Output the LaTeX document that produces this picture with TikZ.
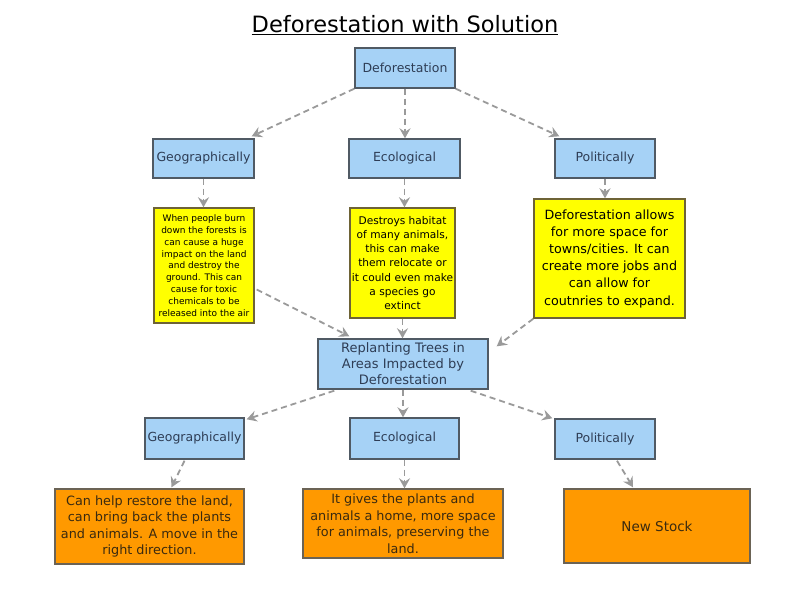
\documentclass[tikz,border=0pt]{standalone}
\usepackage{fontspec}
\setmainfont{DejaVu Sans}
\usetikzlibrary{arrows.meta,calc}
\definecolor{bfill}{HTML}{A6D2F6}
\definecolor{bborder}{HTML}{505A64}
\definecolor{btext}{HTML}{2E3D55}
\definecolor{yfill}{HTML}{FFFF00}
\definecolor{yborder}{HTML}{6E6336}
\definecolor{ofill}{HTML}{FF9900}
\definecolor{oborder}{HTML}{6B6355}
\definecolor{otext}{HTML}{3A2A10}
\definecolor{arrowgray}{HTML}{9A9A9A}
\tikzset{
  bbox/.style={draw=bborder, fill=bfill, line width=1.4pt, inner sep=0pt, text=btext, align=center, font=\fontsize{12.5}{16}\selectfont},
  ybox/.style={draw=yborder, fill=yfill, line width=1.4pt, inner sep=0pt, text=black, align=center},
  obox/.style={draw=oborder, fill=ofill, line width=1.4pt, inner sep=0pt, text=otext, align=center, font=\fontsize{12.8}{16.5}\selectfont},
  conn/.style={draw=arrowgray, line width=1.8pt, dash pattern=on 6pt off 4pt, -{Stealth[length=10pt,width=11pt,inset=3.5pt]}},
}
\begin{document}
\begin{tikzpicture}[x=1pt,y=-1pt]
\useasboundingbox (0,0) rectangle (800,589);
\fill[white] (0,0) rectangle (800,589);
\node (title) at (405,25) {\fontsize{22.5}{26}\selectfont\underline{Deforestation with Solution}};
\node[bbox, minimum width=100pt, minimum height=40pt] (def) at (405,68) {Deforestation};
\node[bbox, minimum width=101pt, minimum height=39pt] (g1) at (203.5,158.5) {Geographically};
\node[bbox, minimum width=111pt, minimum height=39pt] (e1) at (404.5,158.5) {Ecological};
\node[bbox, minimum width=100pt, minimum height=39pt] (p1) at (605,158.5) {Politically};
\node[ybox, minimum width=100pt, minimum height=115pt, font=\fontsize{9}{11.8}\selectfont] (y1) at (204,265.5) {When people burn\\down the forests is\\can cause a huge\\impact on the land\\and destroy the\\ground. This can\\cause for toxic\\chemicals to be\\released into the air};
\node[ybox, minimum width=105pt, minimum height=110pt, font=\fontsize{10.6}{14.3}\selectfont] (y2) at (402.5,263) {Destroys habitat\\of many animals,\\this can make\\them relocate or\\it could even make\\a species go\\extinct};
\node[ybox, minimum width=151pt, minimum height=119pt, font=\fontsize{12.7}{17.2}\selectfont] (y3) at (609.5,258.5) {Deforestation allows\\for more space for\\towns/cities. It can\\create more jobs and\\can allow for\\coutnries to expand.};
\node[bbox, minimum width=170pt, minimum height=50pt, font=\fontsize{13}{16}\selectfont] (rep) at (403,364) {Replanting Trees in\\Areas Impacted by\\Deforestation};
\node[bbox, minimum width=99pt, minimum height=41pt] (g2) at (194.5,438.5) {Geographically};
\node[bbox, minimum width=109pt, minimum height=41pt] (e2) at (404.5,438.5) {Ecological};
\node[bbox, minimum width=100pt, minimum height=40pt] (p2) at (605,439) {Politically};
\node[obox, minimum width=189pt, minimum height=75pt] (o1) at (149.5,526.5) {Can help restore the land,\\can bring back the plants\\and animals. A move in the\\right direction.};
\node[obox, minimum width=200pt, minimum height=69pt] (o2) at (403,523.5) {It gives the plants and\\animals a home, more space\\for animals, preserving the\\land.};
\node[obox, minimum width=186pt, minimum height=74pt, font=\fontsize{13.5}{16}\selectfont] (o3) at (657,526) {New Stock};
% connectors
\draw[conn] (def.south west) -- ($(g1.north east)+(-3,-2)$);
\draw[conn] (def.south) -- (def.south |- e1.north);
\draw[conn] (def.south east) -- ($(p1.north west)+(5,-2)$);
\draw[conn] (g1.south) -- (g1.south |- y1.north);
\draw[conn] (e1.south) -- (e1.south |- y2.north);
\draw[conn] (p1.south) -- (p1.south |- y3.north);
\draw[conn] ($(y1.east)+(2,24)$) -- ($(rep.north west)+(32,-2)$);
\draw[conn] (y2.south) -- (y2.south |- rep.north);
\draw[conn] (y3.south west) -- ($(rep.north east)+(8,8)$);
\draw[conn] ($(rep.south west)+(17,1)$) -- ($(g2.north east)+(2,2)$);
\draw[conn] (rep.south) -- (rep.south |- e2.north);
\draw[conn] ($(rep.south east)+(-18,1)$) -- ($(p2.north west)+(-2,0)$);
\draw[conn] ($(g2.south)+(-10,1)$) -- ($(o1.north)+(22,-1)$);
\draw[conn] (e2.south) -- (e2.south |- o2.north);
\draw[conn] ($(p2.south)+(12,1)$) -- ($(o3.north)+(-24,-1)$);
\end{tikzpicture}
\end{document}
